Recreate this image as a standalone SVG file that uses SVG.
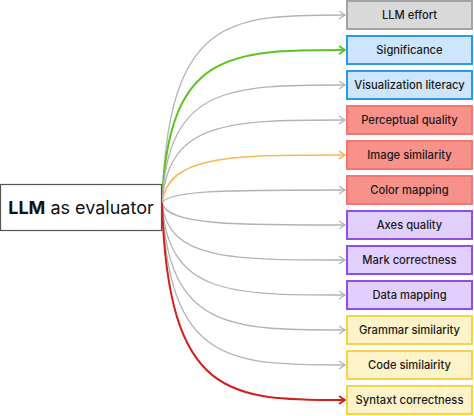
<svg xmlns="http://www.w3.org/2000/svg" width="474" height="416" viewBox="0 0 474 416">
<style>
.lbl{font-family:Inter,"Noto Sans","Liberation Sans",sans-serif;font-size:11.2px;font-weight:500;fill:#1a1a1a;text-anchor:middle}
.main{font-family:Inter,"Noto Sans","Liberation Sans",sans-serif;font-size:18px;fill:#111}
.gray{fill:#d9d9d9;stroke:#a3a3a3;stroke-width:2}
.blue{fill:#cde6fd;stroke:#2b98f0;stroke-width:2}
.red{fill:#f8918a;stroke:#f37770;stroke-width:2}
.purple{fill:#e1d0fd;stroke:#8d4fe6;stroke-width:2}
.yellow{fill:#fdf3c8;stroke:#f6d24a;stroke-width:2}
.c{fill:none;stroke:#b3b3b3;stroke-width:1.3}
.cg{stroke:#5cc41e;stroke-width:2}
.co{stroke:#f5b95a;stroke-width:1.6}
.cr{stroke:#d41f1f;stroke-width:2}
</style>
<defs>
<marker id="ag" markerUnits="userSpaceOnUse" markerWidth="10" markerHeight="12" refX="7" refY="5" orient="auto" viewBox="0 0 10 10"><path d="M1,1 L7,5 L1,9" fill="none" stroke="#b3b3b3" stroke-width="1.3"/></marker>
<marker id="agr" markerUnits="userSpaceOnUse" markerWidth="10" markerHeight="12" refX="7" refY="5" orient="auto" viewBox="0 0 10 10"><path d="M1,1 L7,5 L1,9" fill="none" stroke="#5cc41e" stroke-width="1.8"/></marker>
<marker id="ao" markerUnits="userSpaceOnUse" markerWidth="10" markerHeight="12" refX="7" refY="5" orient="auto" viewBox="0 0 10 10"><path d="M1,1 L7,5 L1,9" fill="none" stroke="#f5b95a" stroke-width="1.6"/></marker>
<marker id="ar" markerUnits="userSpaceOnUse" markerWidth="10" markerHeight="12" refX="7" refY="5" orient="auto" viewBox="0 0 10 10"><path d="M1,1 L7,5 L1,9" fill="none" stroke="#d41f1f" stroke-width="1.8"/></marker>
</defs>
<g id="connectors">
<path class="c" marker-end="url(#ag)" d="M162,203 C168,15 230,15 345,15"/>
<path class="c cg" marker-end="url(#agr)" d="M162,203 C168,50 230,50 345,50"/>
<path class="c" marker-end="url(#ag)" d="M162,203 C168,85 230,85 345,85"/>
<path class="c" marker-end="url(#ag)" d="M162,203 C168,120 230,120 345,120"/>
<path class="c co" marker-end="url(#ao)" d="M162,203 C168,155 230,155 345,155"/>
<path class="c" marker-end="url(#ag)" d="M162,203 C168,190 230,190 345,190"/>
<path class="c" marker-end="url(#ag)" d="M162,203 C168,225 230,225 345,225"/>
<path class="c" marker-end="url(#ag)" d="M162,203 C168,260 230,260 345,260"/>
<path class="c" marker-end="url(#ag)" d="M162,203 C168,295 230,295 345,295"/>
<path class="c" marker-end="url(#ag)" d="M162,203 C168,330 230,330 345,330"/>
<path class="c" marker-end="url(#ag)" d="M162,203 C168,365 230,365 345,365"/>
<path class="c cr" marker-end="url(#ar)" d="M162,203 C168,400 230,400 345,400"/>
</g>
<g id="llm-as-evaluator">
<rect x="0.5" y="184.5" width="161" height="46" fill="#fff" stroke="#555" stroke-width="1.2"/>
<text class="main" x="81" y="214" text-anchor="middle"><tspan font-weight="bold">LLM</tspan> as evaluator</text>
</g>
<g id="llm-effort"><rect class="gray" x="347" y="1" width="125" height="28"/><text class="lbl" x="409.5" y="19">LLM effort</text></g>
<g id="significance"><rect class="blue" x="347" y="36" width="125" height="28"/><text class="lbl" x="409.5" y="54">Significance</text></g>
<g id="visualization-literacy"><rect class="blue" x="347" y="71" width="125" height="28"/><text class="lbl" x="409.5" y="89">Visualization literacy</text></g>
<g id="perceptual-quality"><rect class="red" x="347" y="106" width="125" height="28"/><text class="lbl" x="409.5" y="124">Perceptual quality</text></g>
<g id="image-similarity"><rect class="red" x="347" y="141" width="125" height="28"/><text class="lbl" x="409.5" y="159">Image similarity</text></g>
<g id="color-mapping"><rect class="red" x="347" y="176" width="125" height="28"/><text class="lbl" x="409.5" y="194">Color mapping</text></g>
<g id="axes-quality"><rect class="purple" x="347" y="211" width="125" height="28"/><text class="lbl" x="409.5" y="229">Axes quality</text></g>
<g id="mark-correctness"><rect class="purple" x="347" y="246" width="125" height="28"/><text class="lbl" x="409.5" y="264">Mark correctness</text></g>
<g id="data-mapping"><rect class="purple" x="347" y="281" width="125" height="28"/><text class="lbl" x="409.5" y="299">Data mapping</text></g>
<g id="grammar-similarity"><rect class="yellow" x="347" y="316" width="125" height="28"/><text class="lbl" x="409.5" y="334">Grammar similarity</text></g>
<g id="code-similairity"><rect class="yellow" x="347" y="351" width="125" height="28"/><text class="lbl" x="409.5" y="369">Code similairity</text></g>
<g id="syntaxt-correctness"><rect class="yellow" x="347" y="386" width="125" height="28"/><text class="lbl" x="409.5" y="404">Syntaxt correctness</text></g>
</svg>
